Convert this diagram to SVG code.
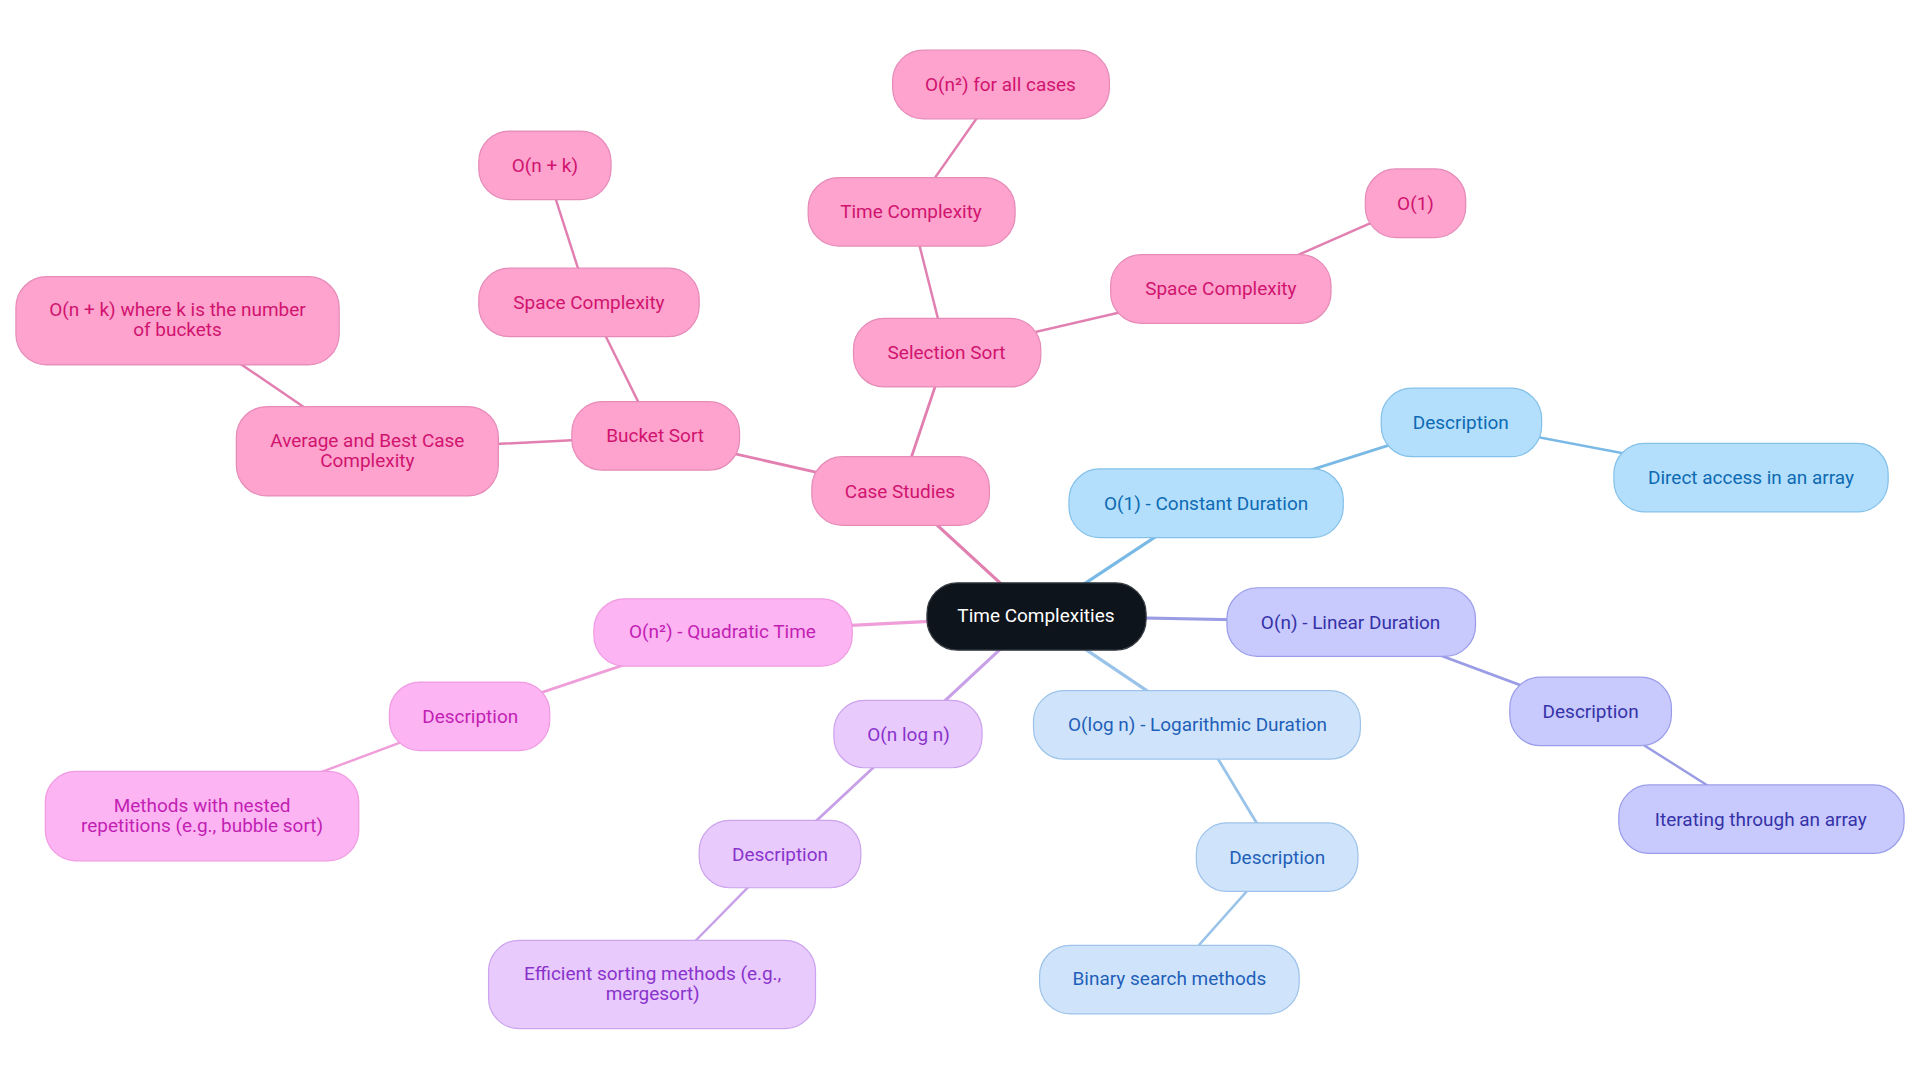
<svg xmlns="http://www.w3.org/2000/svg" width="1920" height="1083" viewBox="0 0 1920 1083">
<style>
text{font-family:Roboto,"Liberation Sans",sans-serif;font-size:15.5px;text-anchor:middle;dominant-baseline:central}
.n rect{stroke-width:1}
.e line{stroke-linecap:round}
.pk rect{fill:#fda3cd;stroke:#e68bb9}.pk text{fill:#d1136f}
.bl rect{fill:#b3dffc;stroke:#84c1ea}.bl text{fill:#0d6ab3}
.in rect{fill:#c8c9fd;stroke:#9a9de9}.in text{fill:#3532a8}
.lb rect{fill:#cfe4fb;stroke:#9ec3ea}.lb text{fill:#1f5fb8}
.lv rect{fill:#e8cafd;stroke:#cca3ee}.lv text{fill:#8a33cc}
.mg rect{fill:#fdb4f3;stroke:#f09be2}.mg text{fill:#c21fb3}
</style>
<rect width="1920" height="1083" fill="#ffffff"/>
<g transform="scale(1.22449)">
<g id="connectors" class="e" fill="none">
<g stroke="#e27fb1">
<line x1="846" y1="503" x2="735" y2="401" stroke-width="2.6"/>
<line x1="735" y1="401" x2="535" y2="356" stroke-width="2.3"/>
<line x1="735" y1="401" x2="773" y2="288" stroke-width="2.3"/>
<line x1="773" y1="288" x2="744" y2="173" stroke-width="2"/>
<line x1="744" y1="173" x2="817" y2="69" stroke-width="2"/>
<line x1="773" y1="288" x2="997" y2="236" stroke-width="2"/>
<line x1="997" y1="236" x2="1156" y2="166" stroke-width="2"/>
<line x1="535" y1="356" x2="481" y2="247" stroke-width="2"/>
<line x1="481" y1="247" x2="445" y2="135" stroke-width="2"/>
<line x1="535" y1="356" x2="300" y2="368" stroke-width="2"/>
<line x1="300" y1="368" x2="145" y2="262" stroke-width="2"/>
</g>
<g stroke="#79b9e6">
<line x1="846" y1="503" x2="985" y2="411" stroke-width="2.6"/>
<line x1="985" y1="411" x2="1193" y2="345" stroke-width="2.3"/>
<line x1="1193" y1="345" x2="1430" y2="390" stroke-width="2"/>
</g>
<g stroke="#9a9de5">
<line x1="846" y1="503" x2="1103" y2="508" stroke-width="2.6"/>
<line x1="1103" y1="508" x2="1299" y2="581" stroke-width="2.3"/>
<line x1="1299" y1="581" x2="1438" y2="669" stroke-width="2"/>
</g>
<g stroke="#9ac3ea">
<line x1="846" y1="503" x2="978" y2="592" stroke-width="2.6"/>
<line x1="978" y1="592" x2="1043" y2="700" stroke-width="2.3"/>
<line x1="1043" y1="700" x2="955" y2="799" stroke-width="2"/>
</g>
<g stroke="#c8a0e8">
<line x1="846" y1="503" x2="742" y2="600" stroke-width="2.6"/>
<line x1="742" y1="600" x2="637" y2="698" stroke-width="2.3"/>
<line x1="637" y1="698" x2="533" y2="804" stroke-width="2"/>
</g>
<g stroke="#ef9ed9">
<line x1="846" y1="503" x2="590" y2="516" stroke-width="2.6"/>
<line x1="590" y1="516" x2="384" y2="585" stroke-width="2.3"/>
<line x1="384" y1="585" x2="165" y2="667" stroke-width="2"/>
</g>
</g>

<g id="root" class="n"><rect x="757" y="476" width="179" height="55" rx="25" fill="#0d141b" stroke="#3a3f46"/><text x="846" y="503" fill="#ffffff">Time Complexities</text></g>

<g id="case-studies" class="n pk"><rect x="663" y="373" width="145" height="56" rx="25"/><text x="735" y="401">Case Studies</text></g>
<g id="bucket-sort" class="n pk"><rect x="467" y="328" width="137" height="56" rx="25"/><text x="535" y="356">Bucket Sort</text></g>
<g id="selection-sort" class="n pk"><rect x="697" y="260" width="153" height="56" rx="25"/><text x="773" y="288">Selection Sort</text></g>
<g id="sel-time" class="n pk"><rect x="660" y="145" width="169" height="56" rx="25"/><text x="744" y="173">Time Complexity</text></g>
<g id="sel-time-val" class="n pk"><rect x="729" y="41" width="177" height="56" rx="25"/><text x="817" y="69">O(n²) for all cases</text></g>
<g id="sel-space" class="n pk"><rect x="907" y="208" width="180" height="56" rx="25"/><text x="997" y="236">Space Complexity</text></g>
<g id="sel-space-val" class="n pk"><rect x="1115" y="138" width="82" height="56" rx="25"/><text x="1156" y="166">O(1)</text></g>
<g id="bucket-space" class="n pk"><rect x="391" y="219" width="180" height="56" rx="25"/><text x="481" y="247">Space Complexity</text></g>
<g id="bucket-space-val" class="n pk"><rect x="391" y="107" width="108" height="56" rx="25"/><text x="445" y="135">O(n + k)</text></g>
<g id="bucket-avg" class="n pk"><rect x="193" y="332" width="214" height="73" rx="25"/><text x="300" y="360">Average and Best Case</text><text x="300" y="376">Complexity</text></g>
<g id="bucket-avg-val" class="n pk"><rect x="13" y="226" width="264" height="72" rx="25"/><text x="145" y="253">O(n + k) where k is the number</text><text x="145" y="269">of buckets</text></g>

<g id="const" class="n bl"><rect x="873" y="383" width="224" height="56" rx="25"/><text x="985" y="411">O(1) - Constant Duration</text></g>
<g id="const-desc" class="n bl"><rect x="1128" y="317" width="131" height="56" rx="25"/><text x="1193" y="345">Description</text></g>
<g id="const-ex" class="n bl"><rect x="1318" y="362" width="224" height="56" rx="25"/><text x="1430" y="390">Direct access in an array</text></g>

<g id="linear" class="n in"><rect x="1002" y="480" width="203" height="56" rx="25"/><text x="1103" y="508">O(n) - Linear Duration</text></g>
<g id="linear-desc" class="n in"><rect x="1233" y="553" width="132" height="56" rx="25"/><text x="1299" y="581">Description</text></g>
<g id="linear-ex" class="n in"><rect x="1322" y="641" width="233" height="56" rx="25"/><text x="1438" y="669">Iterating through an array</text></g>

<g id="log" class="n lb"><rect x="844" y="564" width="267" height="56" rx="25"/><text x="978" y="592">O(log n) - Logarithmic Duration</text></g>
<g id="log-desc" class="n lb"><rect x="977" y="672" width="132" height="56" rx="25"/><text x="1043" y="700">Description</text></g>
<g id="log-ex" class="n lb"><rect x="849" y="772" width="212" height="56" rx="25"/><text x="955" y="799">Binary search methods</text></g>

<g id="nlogn" class="n lv"><rect x="681" y="572" width="121" height="55" rx="25"/><text x="742" y="600">O(n log n)</text></g>
<g id="nlogn-desc" class="n lv"><rect x="571" y="670" width="132" height="55" rx="25"/><text x="637" y="698">Description</text></g>
<g id="nlogn-ex" class="n lv"><rect x="399" y="768" width="267" height="72" rx="25"/><text x="533" y="795">Efficient sorting methods (e.g.,</text><text x="533" y="811">mergesort)</text></g>

<g id="quad" class="n mg"><rect x="485" y="489" width="211" height="55" rx="25"/><text x="590" y="516">O(n²) - Quadratic Time</text></g>
<g id="quad-desc" class="n mg"><rect x="318" y="557" width="131" height="56" rx="25"/><text x="384" y="585">Description</text></g>
<g id="quad-ex" class="n mg"><rect x="37" y="630" width="256" height="73" rx="25"/><text x="165" y="658">Methods with nested</text><text x="165" y="674">repetitions (e.g., bubble sort)</text></g>
</g>
</svg>
